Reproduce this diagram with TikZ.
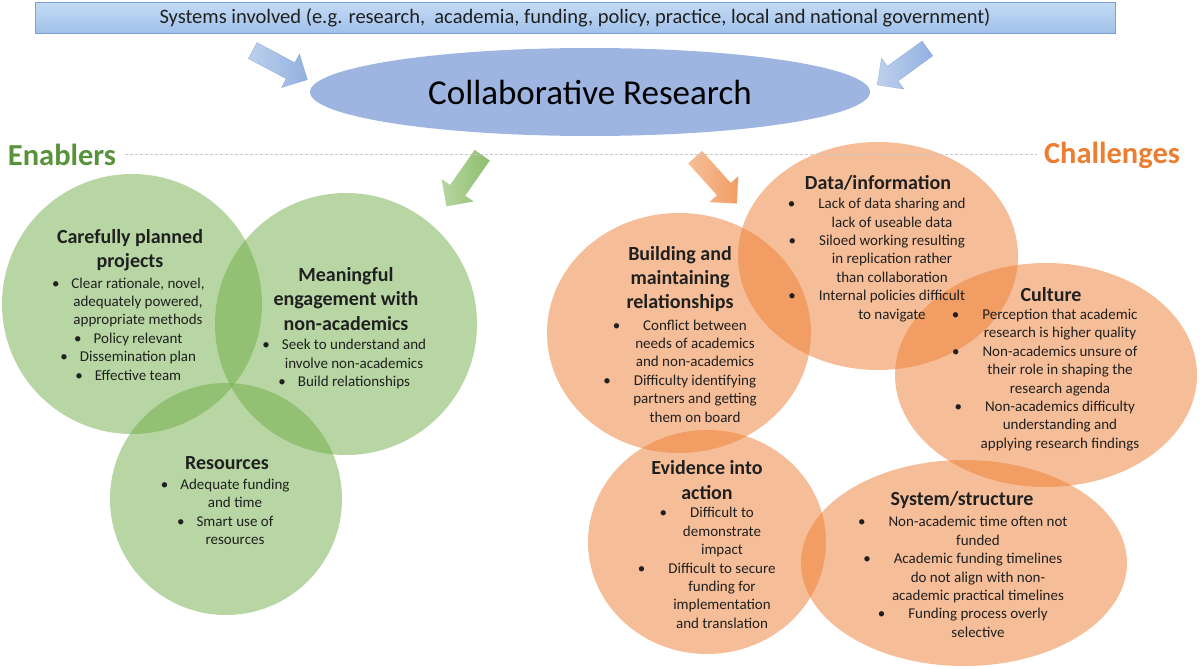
\documentclass[tikz,border=0pt]{standalone}
\usepackage{fontspec}
\setmainfont{Carlito}
\usetikzlibrary{shapes.geometric, shapes.arrows, positioning}

\definecolor{topfillA}{RGB}{196,218,245}
\definecolor{topfillB}{RGB}{160,193,234}
\definecolor{topline}{RGB}{122,160,214}
\definecolor{collabfill}{RGB}{158,181,226}
\definecolor{arrblue}{RGB}{146,177,225}
\definecolor{engreen}{RGB}{112,173,71}
\definecolor{chorange}{RGB}{237,125,49}
\definecolor{labgreen}{RGB}{88,146,58}
\definecolor{txt}{RGB}{32,32,32}

\newcommand{\gbul}{\llap{\textbullet\hspace{12pt}}}
\newcommand{\obul}{\llap{\textbullet\hspace{23pt}}}

\begin{document}
\begin{tikzpicture}[x=1pt, y=-1pt,
    head/.style={font=\bfseries\fontsize{20}{24.4}\selectfont, align=center, inner sep=0pt, text=txt},
    body/.style={font=\fontsize{15}{18.4}\selectfont, align=center, inner sep=0pt, text=txt},
    enab/.style={fill=engreen, fill opacity=.5},
    chal/.style={fill=chorange, fill opacity=.5},
    blockarrow/.style={single arrow, inner sep=0pt, text height=18pt, text depth=0pt,
        single arrow head extend=10pt, minimum height=62pt}]
    \useasboundingbox (0,0) rectangle (1200,669);

    % Systems and the central ellipse
    \node (systems) [draw=topline, top color=topfillA, bottom color=topfillB, minimum width=1080pt,
        minimum height=31pt, inner sep=0pt, font=\fontsize{20.5}{24}\selectfont, text=txt] at (575,18)
        {Systems involved (e.g. research, \ academia, funding, policy, practice, local and national government)};
    \node (collab) [ellipse, fill=collabfill, minimum width=560pt, minimum height=88pt,
        font=\fontsize{35}{40}\selectfont, text=black] at (590,92) {Collaborative Research};

    % Block arrows
    \node (inL) [blockarrow, rotate=-28, left color=arrblue!60, right color=arrblue, draw=arrblue!90!black, very thin] at (276,63) {};
    \node (inR) [blockarrow, rotate=-144, left color=arrblue!60, right color=arrblue, draw=arrblue!90!black, very thin] at (906,64) {};
    \node (toEn) [blockarrow, rotate=-125, left color=engreen!50, right color=engreen!80, draw=engreen!65, very thin] at (467,177) {};
    \node (toCh) [blockarrow, rotate=-48, left color=chorange!50, right color=chorange!75, draw=chorange!60, very thin] at (713,177) {};

    % Circles
    \fill[enab] (132,304) circle [radius=130];
    \fill[enab] (346,324) circle [radius=131];
    \fill[enab] (226,499) circle [radius=116];
    \fill[chal] (878,256) ellipse [x radius=140, y radius=114];
    \fill[chal] (679,333) ellipse [x radius=132, y radius=120];
    \fill[chal] (1046,375) ellipse [x radius=151, y radius=112];
    \fill[chal] (707,542) ellipse [x radius=119, y radius=112];
    \fill[chal] (964,563) ellipse [x radius=163, y radius=103];

    % Side labels
    \node (enabLab) [font=\bfseries\fontsize{30.5}{34}\selectfont, text=labgreen, inner sep=0pt] at (62,155) {Enablers};
    \node (chalLab) [font=\bfseries\fontsize{30.5}{34}\selectfont, text=chorange, inner sep=0pt] at (1112,155) {Challenges};
    \path (enabLab.east) ++(9,-1) coordinate (dashA);
    \path (chalLab.west) ++(-7,-1) coordinate (dashB);
    \draw[gray!45, dashed, dash pattern=on 3pt off 2pt] (dashA) -- (dashB);

    % Enablers text
    \node (cpHead) [head] at (130,250) {Carefully planned\\ projects};
    \node (cpBody) [body] at (138,329) {\gbul Clear rationale, novel,\\ adequately powered,\\ appropriate methods\\
        \gbul Policy relevant\\ \gbul Dissemination plan\\ \gbul Effective team};
    \node (meHead) [head] at (346,299) {Meaningful\\ engagement with\\ non-academics};
    \node (meBody) [body] at (354,364) {\gbul Seek to understand and\\ involve non-academics\\ \gbul Build relationships};
    \node (resHead) [head] at (227,463) {Resources};
    \node (resBody) [body] at (235,512) {\gbul Adequate funding\\ and time\\ \gbul Smart use of\\ resources};

    % Challenges text
    \node (datHead) [head] at (878,183) {Data/information};
    \node (datBody) [body] at (892,260) {\obul Lack of data sharing and\\ lack of useable data\\
        \obul Siloed working resulting\\ in replication rather\\ than collaboration\\
        \obul Internal policies difficult\\ to navigate};
    \node (bldHead) [head] at (680,279) {Building and\\ maintaining\\ relationships};
    \node (bldBody) [body] at (695,371) {\obul Conflict between\\ needs of academics\\ and non-academics\\
        \obul Difficulty identifying\\ partners and getting\\ them on board};
    \node (culHead) [head] at (1051,295) {Culture};
    \node (culBody) [body] at (1060,380) {\obul Perception that academic\\ research is higher quality\\
        \obul Non-academics unsure of\\ their role in shaping the\\ research agenda\\
        \obul Non-academics difficulty\\ understanding and\\ applying research findings};
    \node (evHead) [head] at (707,480) {Evidence into\\ action};
    \node (evBody) [body] at (722,568) {\obul Difficult to\\ demonstrate\\ impact\\
        \obul Difficult to secure\\ funding for\\ implementation\\ and translation};
    \node (sysHead) [head] at (962,500) {System/structure};
    \node (sysBody) [body] at (978,577) {\obul Non-academic time often not\\ funded\\
        \obul Academic funding timelines\\ do not align with non-\\ academic practical timelines\\
        \obul Funding process overly\\ selective};
\end{tikzpicture}
\end{document}
